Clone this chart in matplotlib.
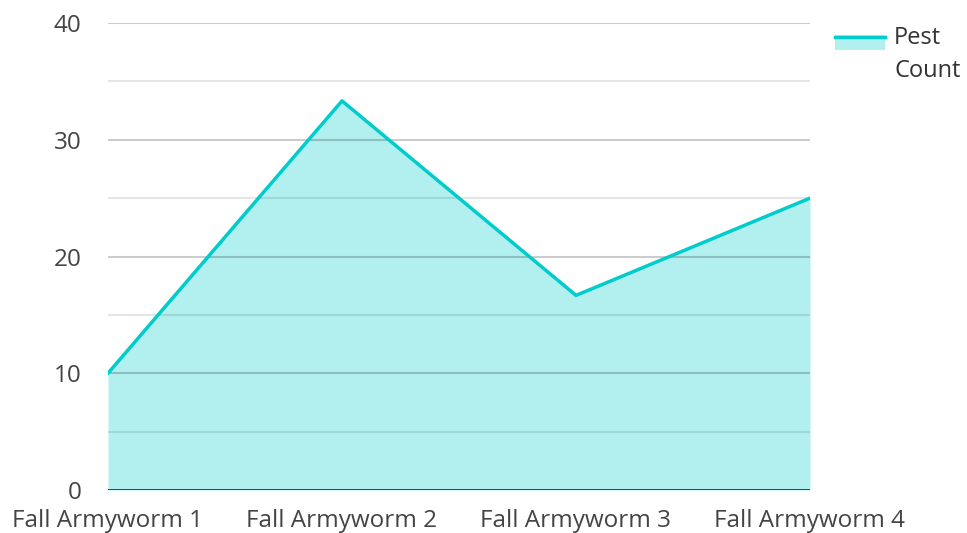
import matplotlib.pyplot as plt
from matplotlib.legend_handler import HandlerBase
from matplotlib.patches import Rectangle
from matplotlib.lines import Line2D

categories = ["Fall Armyworm 1", "Fall Armyworm 2", "Fall Armyworm 3", "Fall Armyworm 4"]
pest_count = [10, 33.33, 16.67, 25]
y_ticks = [0, 10, 20, 30, 40]
series_name = "Pest\nCount"

line_color = "#00cccc"

plt.rcParams['font.family'] = ['Open Sans', 'DejaVu Sans']


class AreaHandler(HandlerBase):
    # filled box with the line on its top edge, aligned with the first text line
    def create_artists(self, legend, orig_handle, xdescent, ydescent,
                       width, height, fontsize, trans):
        y0 = -ydescent + 0.55 * fontsize
        rect = Rectangle((-xdescent, y0), width, height,
                         facecolor=line_color, alpha=0.3, edgecolor='none',
                         transform=trans)
        top = y0 + height * 0.85
        line = Line2D([-xdescent, -xdescent + width], [top, top],
                      color=line_color, linewidth=2.5, transform=trans)
        return [rect, line]


fig = plt.figure(figsize=(9.67, 5.33), dpi=100)
ax = fig.add_axes([108 / 967, 1 - 490 / 533, (810 - 108) / 967, (490 - 23) / 533])

x = list(range(len(categories)))
ax.fill_between(x, 0, pest_count, color=line_color, alpha=0.3, linewidth=0, zorder=1)
ax.plot(x, pest_count, color=line_color, linewidth=2.5, zorder=4)

# translucent grid lines on top of the fill
for v in range(5, 41, 5):
    major = v % 10 == 0
    ax.axhline(v, color="black", alpha=0.2 if major else 0.1,
               linewidth=1.5, zorder=2)
ax.axhline(0, color="#333333", linewidth=2, zorder=5)

ax.set_xlim(0, len(categories) - 1)
ax.set_ylim(0, 40)
ax.set_yticks(y_ticks)
ax.set_xticks(x)
ax.set_xticklabels(categories)
ax.tick_params(axis='both', length=0, labelsize=17.5, colors="#444444")
ax.tick_params(axis='y', pad=19)
ax.tick_params(axis='x', pad=14)
for s in ax.spines.values():
    s.set_visible(False)

ax.legend([object()], [series_name], handler_map={object: AreaHandler()},
          loc='upper left', bbox_to_anchor=(835 / 967, 1 - 26 / 533),
          bbox_transform=fig.transFigure, frameon=False, fontsize=17,
          handlelength=2.1, handleheight=0.6, handletextpad=0.4,
          labelcolor="#333333", borderaxespad=0, borderpad=0)
for t in ax.get_legend().get_texts():
    t.set_linespacing(1.5)

fig.savefig("out.png", dpi=100)
